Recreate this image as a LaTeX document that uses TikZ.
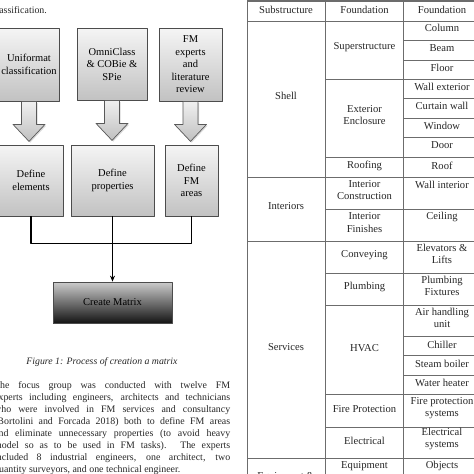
\documentclass[tikz,border=0pt]{standalone}
\usepackage{fontspec}
\setmainfont{Liberation Serif}
\usetikzlibrary{positioning, calc, shadows, arrows.meta}

\tikzset{
  flowbox/.style={draw=black!70, line width=0.8pt, top color=gray!8, bottom color=gray!48,
    align=center, inner sep=1pt, font=\fontsize{10.5}{12.5}\selectfont,
    drop shadow={opacity=0.35, shadow xshift=1.3pt, shadow yshift=-1.3pt}},
  blockarrow/.style={draw=black!65, line width=0.7pt, top color=gray!12, bottom color=gray!50,
    drop shadow={opacity=0.3, shadow xshift=1.2pt, shadow yshift=-1.2pt}},
  link/.style={line width=1.3pt, black},
  tline/.style={draw=gray!85!black, line width=0.9pt},
  cell/.style={align=center, inner sep=0pt, font=\fontsize{10.6}{12.2}\selectfont, text=black!85},
  bodytext/.style={anchor=base west, inner sep=0pt, font=\fontsize{9.9}{12}\selectfont, text=black!85}
}

\begin{document}
\begin{tikzpicture}[x=1pt, y=-1pt, line join=round]
  \useasboundingbox (0,0) rectangle (474,474);
  \clip (0,0) rectangle (474,474);

  % left column: flow of the matrix
  \node[bodytext] (intro) at (-8,13) {classification.};

  \node[flowbox, minimum width=60pt, minimum height=73pt] (uni) at (29,64.5) {Uniformat\\classification};
  \node[flowbox, minimum width=70pt, minimum height=72pt] (omni) at (112,64) {OmniClass\\\& COBie \&\\SPie};
  \node[flowbox, minimum width=63pt, minimum height=73pt] (fmexp) at (190.5,64.5) {FM\\experts\\and\\literature\\review};

  \foreach \b in {uni,omni,fmexp} {
    \draw[blockarrow] ($(\b.south)+(-7.5,0.4)$) -- ($(\b.south)+(-7.5,23)$) -- ($(\b.south)+(-16,23)$)
      -- ($(\b.south)+(0,40)$) -- ($(\b.south)+(16,23)$) -- ($(\b.south)+(7.5,23)$) -- ($(\b.south)+(7.5,0.4)$);
  }

  \node[flowbox, minimum width=64pt, minimum height=71pt] (elem) at (31,180.5) {Define\\elements};
  \node[flowbox, minimum width=83pt, minimum height=71pt] (props) at (112.5,180.5) {Define\\properties};
  \node[flowbox, minimum width=53pt, minimum height=71pt] (areas) at (191.5,180.5) {Define\\FM\\areas};

  \node[flowbox, top color=gray!40, bottom color=black!92, minimum width=119pt, minimum height=41pt] (create) at (112.5,302.5) {Create Matrix};

  \coordinate (jn) at ($(props.south)+(0,27)$);
  \draw[link] (elem.south) |- (jn) -| (areas.south);
  \draw[link, -{Stealth[length=6pt, width=5pt]}] (props.south) -- (create.north);

  \node[font=\itshape\fontsize{9.8}{12}\selectfont, text=black!85] (cap) at (102,362) {Figure 1: Process of creation a matrix};

  \node[bodytext] (p1) at (-6,388) {\makebox[236pt][s]{The focus group was conducted with twelve FM}};
  \node[bodytext] (p2) at (-6,400) {\makebox[236pt][s]{experts including engineers, architects and technicians}};
  \node[bodytext] (p3) at (-6,412) {\makebox[236pt][s]{who were involved in FM services and consultancy}};
  \node[bodytext] (p4) at (-6,424) {\makebox[236pt][s]{(Bortolini and Forcada 2018) both to define FM areas}};
  \node[bodytext] (p5) at (-6,436) {\makebox[236pt][s]{and eliminate unnecessary properties (to avoid heavy}};
  \node[bodytext] (p6) at (-6,448) {\makebox[236pt][s]{model so as to be used in FM tasks). The experts}};
  \node[bodytext] (p7) at (-6,460) {\makebox[236pt][s]{included 8 industrial engineers, one architect, two}};
  \node[bodytext] (p8) at (-6,472) {quantity surveyors, and one technical engineer.};

  % right column: the table
  \draw[tline, line width=1.8pt] (247,0.6) -- (474,0.6);
  \foreach \y in {21,177,241,458} \draw[tline] (247,\y) -- (474,\y);
  \foreach \y in {79,157,209,273,305,394,427} \draw[tline] (325,\y) -- (474,\y);
  \foreach \y in {40,60,98,118,137,336,355,375} \draw[tline] (403,\y) -- (474,\y);
  \foreach \x in {247,325,403} \draw[tline] (\x,0) -- (\x,474);

  \foreach \y/\t in {10/Substructure, 96/Shell, 206/Interiors, 347/Services, 477/{Equipment \&}}
    \node[cell] at (286,\y) {\t};
  \foreach \y/\t in {10/Foundation, 47/Superstructure, 115/{Exterior\\Enclosure}, 166/Roofing,
    190/{Interior\\Construction}, 222.5/{Interior\\Finishes}, 255/Conveying, 287/Plumbing,
    348/HVAC, 409/{Fire Protection}, 441/Electrical, 466/Equipment}
    \node[cell] at (364.5,\y) {\t};
  \foreach \y/\t in {10/Foundation, 28/Column, 48/Beam, 67.5/Floor, 87/{Wall exterior},
    106/{Curtain wall}, 126/Window, 145.5/Door, 166/Roof, 185/{Wall interior}, 217/Ceiling,
    254/{Elevators \&\\Lifts}, 285.5/{Plumbing\\Fixtures}, 318/{Air handling\\unit}, 345/Chiller,
    364/{Steam boiler}, 383/{Water heater}, 408.5/{Fire protection\\systems},
    439/{Electrical\\systems}, 466/Objects}
    \node[cell] at (442,\y) {\t};
\end{tikzpicture}
\end{document}
